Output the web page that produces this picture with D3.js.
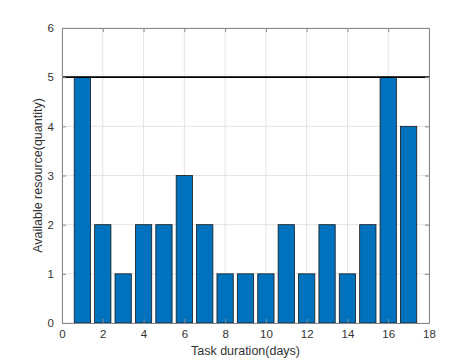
<!DOCTYPE html>
<html><head><meta charset="utf-8">
<script src="https://cdn.jsdelivr.net/npm/d3@7"></script>
<style>body{margin:0;background:#fff;}svg{display:block;font-family:"Liberation Sans",Arial,sans-serif;}</style>
</head><body>
<script>
const days = [1,2,3,4,5,6,7,8,9,10,11,12,13,14,15,16,17];
const resources = [5,2,1,2,2,3,2,1,1,1,2,1,2,1,2,5,4];
const limitValue = 5;
const xTicks = [0,2,4,6,8,10,12,14,16,18];
const yTicks = [0,1,2,3,4,5,6];
const xLabel = "Task duration(days)";
const yLabel = "Available resource(quantity)";

const W = 474, H = 363;
const m = {left: 62, right: 45, top: 28, bottom: 40};
const svg = d3.select("body").append("svg").attr("width", W).attr("height", H);
const x = d3.scaleLinear().domain([0,18]).range([m.left, W - m.right]);
const y = d3.scaleLinear().domain([0,6]).range([H - m.bottom, m.top]);
const axisCol = "#888", textCol = "#333";

// grid
svg.append("g").selectAll("line").data(xTicks).join("line")
  .attr("x1", d=>x(d)).attr("x2", d=>x(d)).attr("y1", y(0)).attr("y2", y(6))
  .attr("stroke", "#e4e4e4").attr("stroke-width", 1);
svg.append("g").selectAll("line").data(yTicks).join("line")
  .attr("x1", x(0)).attr("x2", x(18)).attr("y1", d=>y(d)).attr("y2", d=>y(d))
  .attr("stroke", "#e4e4e4").attr("stroke-width", 1);

// bars
const bw = x(0.8) - x(0);
svg.append("g").selectAll("rect").data(days).join("rect")
  .attr("x", (d)=>x(d) - bw/2).attr("width", bw)
  .attr("y", (d,i)=>y(resources[i])).attr("height", (d,i)=>y(0) - y(resources[i]))
  .attr("fill", "#0072BD").attr("stroke", "#1a1a1a").attr("stroke-width", 0.8);

// limit line
svg.append("line").attr("x1", x(0)).attr("x2", x(18)).attr("y1", y(limitValue)).attr("y2", y(limitValue))
  .attr("stroke", "#000").attr("stroke-width", 1.6);

// axes
const xb = d3.axisBottom(x).tickValues(xTicks).tickSize(-4).tickPadding(7).tickFormat(d3.format("d"));
const xt = d3.axisTop(x).tickValues(xTicks).tickSize(-4).tickFormat("");
const yl = d3.axisLeft(y).tickValues(yTicks).tickSize(-4).tickPadding(8).tickFormat(d3.format("d"));
const yr = d3.axisRight(y).tickValues(yTicks).tickSize(-4).tickFormat("");
function style(g){
  g.select(".domain").attr("stroke", axisCol).attr("stroke-width", 1);
  g.selectAll(".tick line").attr("stroke", axisCol);
  g.selectAll(".tick text").attr("fill", textCol).attr("font-size", 11.5).attr("font-family", "Liberation Sans, Arial, sans-serif");
}
svg.append("g").attr("transform", `translate(0,${y(0)})`).call(xb).call(style);
svg.append("g").attr("transform", `translate(0,${y(6)})`).call(xt).call(style);
svg.append("g").attr("transform", `translate(${x(0)},0)`).call(yl).call(style);
svg.append("g").attr("transform", `translate(${x(18)},0)`).call(yr).call(style);
svg.selectAll(".domain").attr("d", function(){ return d3.select(this).attr("d").replace(/M[^H]*H/, m=>m); });

// labels
svg.append("text").attr("x", (x(0)+x(18))/2).attr("y", H - 8).attr("text-anchor", "middle")
  .attr("fill", textCol).attr("font-size", 12.5).text(xLabel);
svg.append("text").attr("transform", `translate(${m.left - 20},${(y(0)+y(6))/2}) rotate(-90)`)
  .attr("text-anchor", "middle").attr("fill", textCol).attr("font-size", 12.5).text(yLabel);
</script>
</body></html>
